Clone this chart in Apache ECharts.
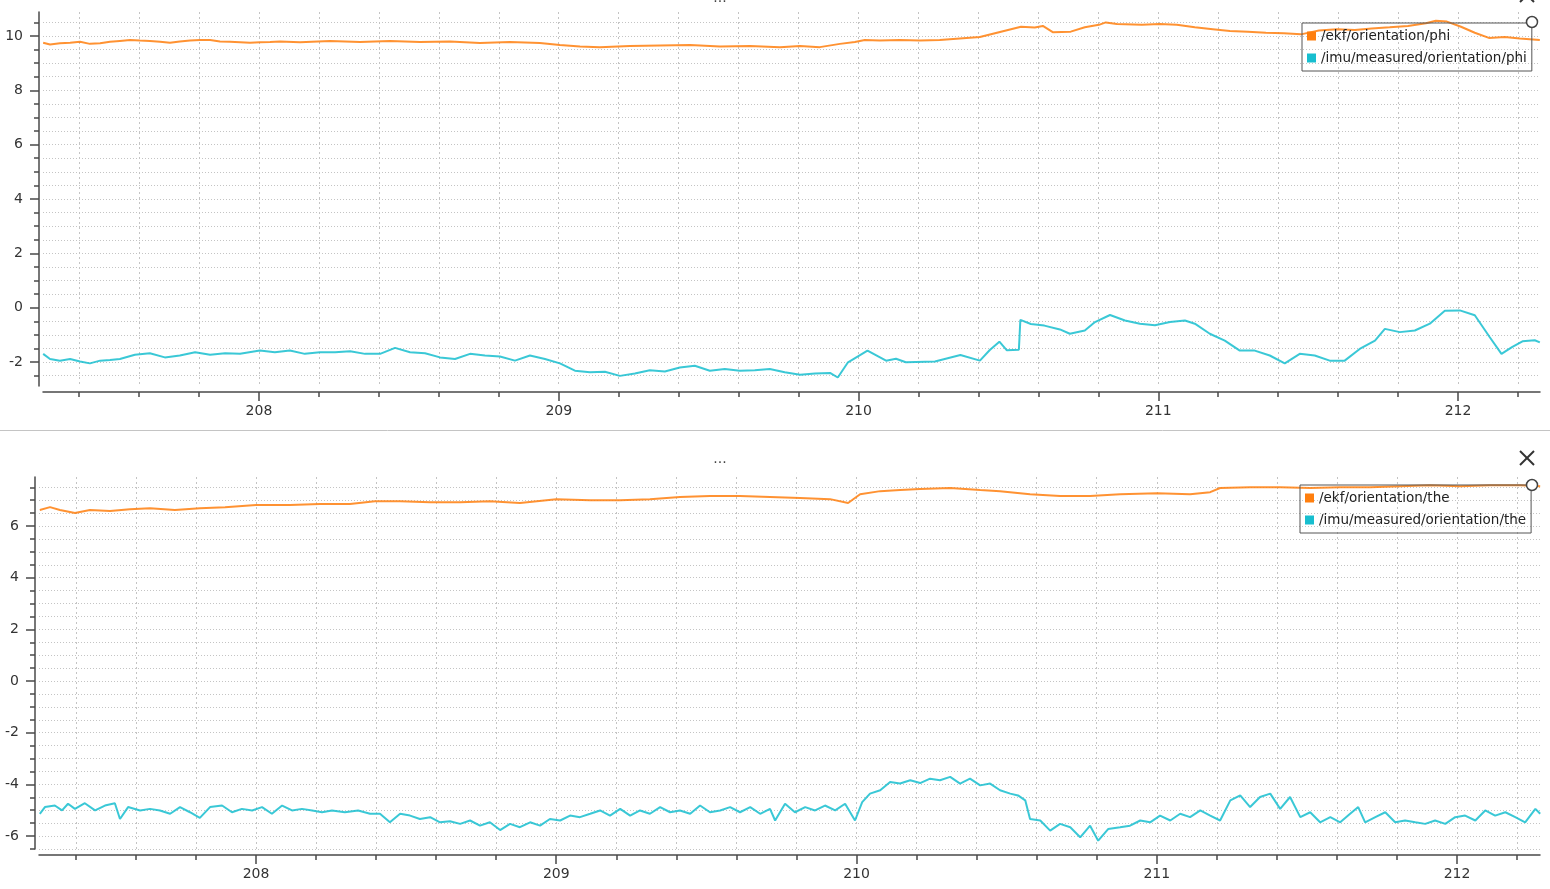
<!DOCTYPE html>
<html>
<head>
<meta charset="utf-8">
<title>orientation</title>
<script src="https://cdn.jsdelivr.net/npm/echarts@6/dist/echarts.min.js"></script>
<style>
  html, body { margin: 0; padding: 0; background: #fff; }
  #main { width: 1550px; height: 889px; }
</style>
</head>
<body>
<div id="main"></div>
<script>
// series names
var phiNames = ['/ekf/orientation/phi', '/imu/measured/orientation/phi'];
var theNames = ['/ekf/orientation/the', '/imu/measured/orientation/the'];

// tick labels
var xMajor = [208, 209, 210, 211, 212];
var xMinor = [207.4, 207.6, 207.8, 208, 208.2, 208.4, 208.6, 208.8, 209, 209.2, 209.4, 209.6, 209.8,
              210, 210.2, 210.4, 210.6, 210.8, 211, 211.2, 211.4, 211.6, 211.8, 212, 212.2];
var phiMajor = [-2, 0, 2, 4, 6, 8, 10];
var phiMinor = [-2.5, -2, -1.5, -1, -0.5, 0, 0.5, 1, 1.5, 2, 2.5, 3, 3.5, 4, 4.5, 5, 5.5, 6, 6.5,
                7, 7.5, 8, 8.5, 9, 9.5, 10, 10.5];
var theMajor = [-6, -4, -2, 0, 2, 4, 6];
var theMinor = [-6.5, -6, -5.5, -5, -4.5, -4, -3.5, -3, -2.5, -2, -1.5, -1, -0.5, 0, 0.5, 1, 1.5,
                2, 2.5, 3, 3.5, 4, 4.5, 5, 5.5, 6, 6.5, 7, 7.5];

// [time, value]
var ekfPhi = [
  [207.280, 9.75], [207.303, 9.69], [207.336, 9.73], [207.370, 9.75], [207.403, 9.79], [207.436, 9.71],
  [207.470, 9.73], [207.503, 9.79], [207.536, 9.82], [207.570, 9.85], [207.603, 9.83], [207.636, 9.82],
  [207.670, 9.79], [207.703, 9.75], [207.736, 9.80], [207.770, 9.83], [207.803, 9.85], [207.837, 9.85],
  [207.870, 9.80], [207.903, 9.79], [207.937, 9.77], [207.970, 9.75], [208.003, 9.77], [208.037, 9.78],
  [208.070, 9.80], [208.137, 9.77], [208.237, 9.82], [208.337, 9.78], [208.437, 9.82], [208.537, 9.78],
  [208.637, 9.80], [208.737, 9.74], [208.837, 9.78], [208.937, 9.74], [209.004, 9.67], [209.071, 9.61],
  [209.137, 9.59], [209.237, 9.63], [209.338, 9.65], [209.438, 9.67], [209.538, 9.61], [209.638, 9.63],
  [209.738, 9.59], [209.805, 9.63], [209.871, 9.59], [209.938, 9.71], [209.988, 9.78], [210.021, 9.85],
  [210.071, 9.83], [210.138, 9.85], [210.205, 9.83], [210.271, 9.85], [210.338, 9.91], [210.405, 9.96],
  [210.472, 10.15], [210.542, 10.34], [210.588, 10.31], [210.615, 10.37], [210.648, 10.14], [210.708, 10.16],
  [210.755, 10.32], [210.802, 10.41], [210.825, 10.50], [210.862, 10.44], [210.945, 10.41], [211.005, 10.44],
  [211.062, 10.41], [211.122, 10.32], [211.182, 10.25], [211.239, 10.18], [211.299, 10.16], [211.359, 10.12],
  [211.419, 10.10], [211.476, 10.06], [211.536, 10.20], [211.596, 10.25], [211.656, 10.22], [211.712, 10.28],
  [211.772, 10.32], [211.833, 10.37], [211.893, 10.47], [211.926, 10.56], [211.963, 10.53], [212.010, 10.34],
  [212.056, 10.12], [212.103, 9.93], [212.156, 9.96], [212.206, 9.91], [212.273, 9.85]
];

var imuPhi = [
  [207.280, -1.70], [207.303, -1.89], [207.336, -1.95], [207.370, -1.89], [207.403, -1.98], [207.436, -2.05],
  [207.470, -1.95], [207.503, -1.93], [207.536, -1.89], [207.586, -1.73], [207.636, -1.68], [207.686, -1.83],
  [207.736, -1.76], [207.787, -1.64], [207.837, -1.73], [207.887, -1.68], [207.937, -1.70], [208.003, -1.58],
  [208.053, -1.64], [208.103, -1.58], [208.153, -1.70], [208.203, -1.64], [208.254, -1.64], [208.304, -1.60],
  [208.354, -1.70], [208.404, -1.70], [208.454, -1.48], [208.504, -1.64], [208.554, -1.68], [208.604, -1.83],
  [208.654, -1.89], [208.704, -1.70], [208.754, -1.76], [208.804, -1.80], [208.854, -1.95], [208.904, -1.76],
  [208.954, -1.89], [209.004, -2.05], [209.054, -2.32], [209.104, -2.38], [209.154, -2.36], [209.204, -2.51],
  [209.254, -2.42], [209.304, -2.30], [209.354, -2.35], [209.404, -2.20], [209.454, -2.14], [209.504, -2.32],
  [209.554, -2.26], [209.604, -2.32], [209.654, -2.30], [209.704, -2.26], [209.754, -2.38], [209.805, -2.47],
  [209.855, -2.42], [209.905, -2.40], [209.931, -2.57], [209.965, -2.01], [210.030, -1.58], [210.092, -1.95],
  [210.125, -1.88], [210.158, -2.01], [210.255, -1.98], [210.340, -1.74], [210.405, -1.95], [210.438, -1.56],
  [210.470, -1.25], [210.495, -1.57], [210.535, -1.55], [210.540, -0.45], [210.575, -0.60], [210.620, -0.66],
  [210.672, -0.80], [210.705, -0.96], [210.755, -0.84], [210.789, -0.53], [210.839, -0.27], [210.889, -0.47],
  [210.939, -0.59], [210.989, -0.65], [211.039, -0.53], [211.089, -0.47], [211.122, -0.59], [211.172, -0.96],
  [211.222, -1.21], [211.272, -1.58], [211.322, -1.58], [211.372, -1.76], [211.422, -2.05], [211.472, -1.70],
  [211.522, -1.76], [211.572, -1.95], [211.622, -1.95], [211.672, -1.52], [211.723, -1.21], [211.756, -0.78],
  [211.806, -0.90], [211.856, -0.84], [211.906, -0.59], [211.956, -0.11], [212.006, -0.10], [212.056, -0.28],
  [212.106, -1.09], [212.145, -1.70], [212.180, -1.45], [212.215, -1.24], [212.256, -1.20], [212.273, -1.28]
];

var ekfThe = [
  [207.280, 6.62], [207.314, 6.73], [207.347, 6.62], [207.397, 6.50], [207.447, 6.62], [207.514, 6.58],
  [207.580, 6.65], [207.647, 6.69], [207.730, 6.62], [207.813, 6.69], [207.897, 6.73], [208.000, 6.81],
  [208.113, 6.81], [208.213, 6.85], [208.313, 6.85], [208.396, 6.96], [208.480, 6.96], [208.580, 6.92],
  [208.680, 6.92], [208.779, 6.96], [208.879, 6.89], [209.000, 7.04], [209.113, 7.00], [209.213, 7.00],
  [209.312, 7.04], [209.412, 7.12], [209.512, 7.16], [209.612, 7.16], [209.712, 7.12], [209.812, 7.08],
  [209.912, 7.04], [209.972, 6.89], [210.012, 7.23], [210.079, 7.35], [210.145, 7.39], [210.212, 7.43],
  [210.312, 7.47], [210.412, 7.39], [210.478, 7.35], [210.578, 7.23], [210.678, 7.16], [210.778, 7.16],
  [210.878, 7.23], [211.001, 7.27], [211.111, 7.23], [211.178, 7.31], [211.211, 7.47], [211.311, 7.50],
  [211.411, 7.50], [211.511, 7.47], [211.611, 7.50], [211.711, 7.50], [211.811, 7.54], [211.911, 7.58],
  [212.011, 7.54], [212.111, 7.58], [212.211, 7.58], [212.277, 7.54]
];

var imuThe = [
  [207.280, -5.14], [207.297, -4.88], [207.330, -4.82], [207.354, -5.01], [207.374, -4.75], [207.397, -4.95],
  [207.430, -4.73], [207.464, -5.01], [207.497, -4.82], [207.530, -4.73], [207.547, -5.34], [207.574, -4.88],
  [207.614, -5.01], [207.647, -4.95], [207.680, -5.01], [207.714, -5.14], [207.747, -4.88], [207.780, -5.08],
  [207.813, -5.30], [207.847, -4.88], [207.887, -4.82], [207.920, -5.08], [207.953, -4.95], [207.987, -5.01],
  [208.020, -4.88], [208.053, -5.14], [208.087, -4.82], [208.120, -5.01], [208.153, -4.95], [208.187, -5.01],
  [208.220, -5.08], [208.253, -5.01], [208.296, -5.08], [208.340, -5.01], [208.380, -5.14], [208.413, -5.14],
  [208.446, -5.47], [208.480, -5.14], [208.513, -5.21], [208.546, -5.34], [208.580, -5.27], [208.613, -5.47],
  [208.646, -5.43], [208.680, -5.53], [208.713, -5.40], [208.746, -5.60], [208.779, -5.47], [208.813, -5.77],
  [208.846, -5.53], [208.879, -5.66], [208.913, -5.47], [208.946, -5.60], [208.979, -5.34], [209.013, -5.40],
  [209.046, -5.21], [209.079, -5.27], [209.113, -5.14], [209.146, -5.01], [209.179, -5.21], [209.213, -4.95],
  [209.246, -5.21], [209.279, -5.01], [209.312, -5.14], [209.346, -4.88], [209.379, -5.08], [209.412, -5.01],
  [209.446, -5.14], [209.479, -4.82], [209.512, -5.08], [209.546, -5.01], [209.579, -4.88], [209.612, -5.08],
  [209.646, -4.88], [209.679, -5.14], [209.712, -4.95], [209.729, -5.40], [209.762, -4.75], [209.795, -5.08],
  [209.829, -4.88], [209.862, -5.01], [209.895, -4.82], [209.929, -5.01], [209.962, -4.75], [209.995, -5.40],
  [210.019, -4.69], [210.045, -4.36], [210.079, -4.23], [210.112, -3.91], [210.145, -3.97], [210.179, -3.84],
  [210.212, -3.95], [210.245, -3.78], [210.278, -3.84], [210.312, -3.71], [210.345, -3.97], [210.378, -3.78],
  [210.412, -4.04], [210.445, -3.97], [210.478, -4.23], [210.512, -4.36], [210.538, -4.43], [210.562, -4.62],
  [210.578, -5.34], [210.612, -5.40], [210.645, -5.79], [210.678, -5.53], [210.712, -5.66], [210.745, -6.05],
  [210.778, -5.60], [210.805, -6.18], [210.838, -5.73], [210.878, -5.66], [210.911, -5.60], [210.945, -5.40],
  [210.978, -5.47], [211.011, -5.21], [211.045, -5.40], [211.078, -5.14], [211.111, -5.27], [211.145, -5.01],
  [211.178, -5.21], [211.211, -5.40], [211.245, -4.62], [211.278, -4.43], [211.311, -4.88], [211.344, -4.49],
  [211.378, -4.36], [211.411, -4.95], [211.444, -4.49], [211.478, -5.27], [211.511, -5.08], [211.544, -5.47],
  [211.578, -5.27], [211.611, -5.47], [211.644, -5.14], [211.671, -4.88], [211.694, -5.47], [211.728, -5.27],
  [211.761, -5.08], [211.794, -5.47], [211.827, -5.40], [211.861, -5.47], [211.894, -5.53], [211.927, -5.40],
  [211.961, -5.53], [211.994, -5.27], [212.027, -5.21], [212.061, -5.40], [212.094, -5.01], [212.127, -5.21],
  [212.161, -5.08], [212.194, -5.27], [212.227, -5.47], [212.261, -4.95], [212.277, -5.14]
];

var orange = '#ff7f0e';
var teal = '#17becf';
var axisColor = '#4a4a4a';
var font = 'DejaVu Sans';

function majorX(grid, min, max) {
    return {
        type: 'value', gridIndex: grid, position: 'bottom', offset: 6,
        min: min, max: max,
        axisLine: { show: true, onZero: false, lineStyle: { color: axisColor, width: 1.5 } },
        axisTick: { show: true, length: 9, customValues: xMajor, lineStyle: { color: axisColor, width: 1.5 } },
        axisLabel: { customValues: xMajor, margin: 12, color: '#333', fontSize: 14, fontFamily: font },
        splitLine: { show: false }
    };
}
function minorX(grid, min, max) {
    return {
        type: 'value', gridIndex: grid, position: 'bottom', offset: 6,
        min: min, max: max,
        axisLine: { show: false, onZero: false },
        axisTick: { show: true, length: 5, customValues: xMinor, lineStyle: { color: axisColor, width: 1.5 } },
        axisLabel: { show: false },
        splitLine: { show: true, lineStyle: { color: '#c4c4c4', width: 1, type: [2, 3] } }
    };
}
function majorY(grid, min, max, ticks) {
    return {
        type: 'value', gridIndex: grid, position: 'left', offset: 4,
        min: min, max: max,
        axisLine: { show: true, onZero: false, lineStyle: { color: axisColor, width: 1.5 } },
        axisTick: { show: true, length: 9, customValues: ticks, lineStyle: { color: axisColor, width: 1.5 } },
        axisLabel: { customValues: ticks, margin: 16, color: '#333', fontSize: 14, fontFamily: font },
        splitLine: { show: false }
    };
}
function minorY(grid, min, max, ticks) {
    return {
        type: 'value', gridIndex: grid, position: 'left', offset: 4,
        min: min, max: max,
        axisLine: { show: false, onZero: false },
        axisTick: { show: true, length: 5, customValues: ticks, lineStyle: { color: axisColor, width: 1.5 } },
        axisLabel: { show: false },
        splitLine: { show: true, lineStyle: { color: '#c4c4c4', width: 1, type: [1, 2] } }
    };
}
function lineSeries(name, data, color, xi, yi) {
    return {
        name: name, type: 'line', data: data, xAxisIndex: xi, yAxisIndex: yi,
        showSymbol: false, silent: true, color: color,
        lineStyle: { color: color, width: 2, opacity: 0.85 }
    };
}
function legendBox(names, left, top) {
    return {
        data: names, orient: 'vertical', left: left, top: top,
        icon: 'rect', itemWidth: 9, itemHeight: 9, itemGap: 6, padding: 5,
        backgroundColor: 'transparent', borderColor: '#555', borderWidth: 1, borderRadius: 0,
        selectedMode: false,
        textStyle: { color: '#222', fontSize: 13.5, fontFamily: font, lineHeight: 16 }
    };
}
function cross(cx, cy) {
    return [
        { type: 'line', shape: { x1: cx - 7, y1: cy - 7, x2: cx + 7, y2: cy + 7 }, style: { stroke: '#333', lineWidth: 2 } },
        { type: 'line', shape: { x1: cx + 7, y1: cy - 7, x2: cx - 7, y2: cy + 7 }, style: { stroke: '#333', lineWidth: 2 } }
    ];
}

var chart = echarts.init(document.getElementById('main'));
var option = {
    backgroundColor: '#fff',
    animation: false,
    grid: [
        { left: 43, right: 10, top: 12, height: 374 },
        { left: 39, right: 10, top: 477, height: 372 }
    ],
    xAxis: [
        majorX(0, 207.2795, 212.2735), minorX(0, 207.2795, 212.2735),
        majorX(1, 207.2773, 212.2764), minorX(1, 207.2773, 212.2764)
    ],
    yAxis: [
        majorY(0, -2.883, 10.883, phiMajor), minorY(0, -2.883, 10.883, phiMinor),
        majorY(1, -6.503, 7.897, theMajor), minorY(1, -6.503, 7.897, theMinor)
    ],
    legend: [legendBox(phiNames, 1302, 23), legendBox(theNames, 1300, 485)],
    series: [
        lineSeries(phiNames[0], ekfPhi, orange, 0, 0),
        lineSeries(phiNames[1], imuPhi, teal, 0, 0),
        lineSeries(theNames[0], ekfThe, orange, 2, 2),
        lineSeries(theNames[1], imuThe, teal, 2, 2)
    ],
    graphic: [
        // divider between the two plots
        { type: 'line', shape: { x1: 0, y1: 430.5, x2: 1550, y2: 430.5 }, style: { stroke: '#c4c4c4', lineWidth: 1 } },
        { type: 'text', x: 720, y: -9, style: { text: '...', fill: '#444', font: '14px DejaVu Sans', textAlign: 'center' } },
        { type: 'text', x: 720, y: 452, style: { text: '...', fill: '#444', font: '14px DejaVu Sans', textAlign: 'center' } },
        // legend handles
        { type: 'circle', shape: { cx: 1532, cy: 22, r: 5.5 }, style: { fill: '#fff', stroke: '#444', lineWidth: 1.5 }, z: 100 },
        { type: 'circle', shape: { cx: 1532, cy: 485, r: 5.5 }, style: { fill: '#fff', stroke: '#444', lineWidth: 1.5 }, z: 100 }
    ].concat(cross(1527, -5)).concat(cross(1527, 458))
};
chart.setOption(option, true);
window.onresize = function () {
    chart.resize();
};
</script>
</body>
</html>
